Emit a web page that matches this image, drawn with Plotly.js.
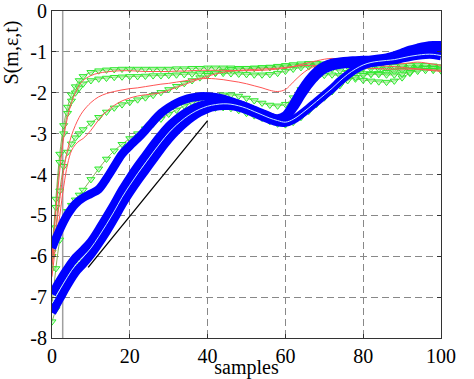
<!DOCTYPE html>
<html>
<head>
<meta charset="utf-8">
<script src="https://cdn.plot.ly/plotly-3.0.1.min.js"></script>
<style>html,body{margin:0;padding:0;background:#fff;}#chart{width:474px;height:379px;}</style>
</head>
<body>
<div id="chart"></div>
<script>
// sample positions (dense for marker series, even samples for thick curves)
const X_DENSE = [0,1,2,3,4,5,6,7,8,10,12,14,16,18,20,22,24,26,28,30,32,34,36,38,40,42,44,46,48,50,52,54,56,58,60,62,64,66,68,70,72,74,76,78,80,82,84,86,88,90,92,94,96,98,100];
const X_EVEN = [0,2,4,6,8,10,12,14,16,18,20,22,24,26,28,30,32,34,36,38,40,42,44,46,48,50,52,54,56,58,60,62,64,66,68,70,72,74,76,78,80,82,84,86,88,90,92,94,96,98,100];

// green triangle series (on X_DENSE)
const G1 = [-5.9,-4.6,-3.5,-2.8,-2.35,-2.05,-1.85,-1.7,-1.6,-1.5,-1.46,-1.44,-1.43,-1.42,-1.42,-1.42,-1.42,-1.42,-1.42,-1.42,-1.41,-1.41,-1.4,-1.4,-1.39,-1.39,-1.39,-1.39,-1.4,-1.4,-1.4,-1.39,-1.38,-1.37,-1.36,-1.34,-1.33,-1.32,-1.31,-1.31,-1.32,-1.34,-1.36,-1.38,-1.4,-1.41,-1.42,-1.42,-1.41,-1.4,-1.38,-1.37,-1.37,-1.38,-1.4];
const G2 = [-6.0,-4.8,-3.7,-3.0,-2.5,-2.2,-2.0,-1.88,-1.78,-1.7,-1.66,-1.64,-1.62,-1.61,-1.6,-1.6,-1.59,-1.58,-1.58,-1.57,-1.56,-1.55,-1.54,-1.53,-1.52,-1.52,-1.52,-1.53,-1.54,-1.55,-1.56,-1.56,-1.55,-1.52,-1.47,-1.42,-1.38,-1.36,-1.36,-1.38,-1.42,-1.46,-1.5,-1.52,-1.53,-1.53,-1.52,-1.5,-1.48,-1.45,-1.42,-1.4,-1.4,-1.42,-1.44];
const G3 = [-6.3,-5.3,-4.4,-3.8,-3.45,-3.25,-3.1,-3.0,-2.9,-2.74,-2.6,-2.47,-2.37,-2.29,-2.23,-2.17,-2.12,-2.06,-1.99,-1.92,-1.84,-1.77,-1.7,-1.63,-1.57,-1.51,-1.47,-1.43,-1.41,-1.4,-1.39,-1.38,-1.37,-1.35,-1.33,-1.31,-1.29,-1.28,-1.28,-1.29,-1.3,-1.31,-1.32,-1.33,-1.34,-1.35,-1.35,-1.35,-1.35,-1.34,-1.33,-1.32,-1.33,-1.34,-1.36];
const G4 = [-7.2,-6.3,-5.6,-5.15,-4.9,-4.75,-4.62,-4.5,-4.38,-4.12,-3.86,-3.62,-3.42,-3.26,-3.12,-3.0,-2.88,-2.76,-2.64,-2.52,-2.42,-2.32,-2.24,-2.18,-2.13,-2.08,-2.05,-2.05,-2.08,-2.13,-2.19,-2.25,-2.3,-2.32,-2.28,-2.12,-1.92,-1.75,-1.63,-1.57,-1.56,-1.58,-1.62,-1.66,-1.69,-1.71,-1.73,-1.74,-1.71,-1.63,-1.52,-1.43,-1.4,-1.4,-1.42];
const G5 = [-7.6,-7.3,-7.0,-6.75,-6.55,-6.4,-6.3,-6.2,-6.12,-5.9,-5.62,-5.32,-5.0,-4.7,-4.42,-4.15,-3.88,-3.6,-3.35,-3.1,-2.88,-2.7,-2.56,-2.46,-2.4,-2.37,-2.36,-2.38,-2.43,-2.5,-2.56,-2.62,-2.7,-2.76,-2.78,-2.72,-2.6,-2.45,-2.28,-2.12,-1.97,-1.82,-1.7,-1.62,-1.57,-1.55,-1.55,-1.56,-1.56,-1.54,-1.5,-1.47,-1.45,-1.45,-1.46];

// thin red series (on X_DENSE)
const R1 = [-6.0,-4.9,-3.9,-3.1,-2.6,-2.25,-2.0,-1.82,-1.7,-1.58,-1.52,-1.49,-1.47,-1.46,-1.46,-1.47,-1.48,-1.48,-1.48,-1.48,-1.47,-1.47,-1.46,-1.45,-1.45,-1.45,-1.45,-1.46,-1.46,-1.46,-1.46,-1.45,-1.44,-1.42,-1.4,-1.36,-1.31,-1.26,-1.22,-1.18,-1.16,-1.18,-1.21,-1.24,-1.26,-1.27,-1.28,-1.29,-1.29,-1.29,-1.27,-1.25,-1.27,-1.3,-1.33];
const R2 = [-6.2,-5.4,-4.6,-3.9,-3.4,-3.05,-2.8,-2.6,-2.45,-2.24,-2.1,-2.02,-1.97,-1.93,-1.9,-1.88,-1.85,-1.82,-1.79,-1.77,-1.74,-1.71,-1.68,-1.66,-1.65,-1.66,-1.68,-1.71,-1.74,-1.78,-1.83,-1.88,-1.94,-1.97,-1.92,-1.74,-1.56,-1.42,-1.34,-1.3,-1.29,-1.29,-1.3,-1.31,-1.32,-1.33,-1.34,-1.35,-1.36,-1.38,-1.4,-1.42,-1.44,-1.46,-1.48];
const R3 = [-6.5,-5.7,-5.0,-4.3,-3.75,-3.42,-3.27,-3.18,-3.12,-2.92,-2.66,-2.46,-2.31,-2.2,-2.13,-2.08,-2.05,-2.03,-2.0,-1.94,-1.87,-1.8,-1.73,-1.66,-1.6,-1.54,-1.5,-1.47,-1.45,-1.44,-1.43,-1.42,-1.41,-1.4,-1.38,-1.36,-1.34,-1.33,-1.33,-1.34,-1.35,-1.36,-1.37,-1.38,-1.39,-1.4,-1.41,-1.42,-1.42,-1.42,-1.42,-1.42,-1.43,-1.44,-1.45];

// thick blue series (on X_EVEN)
const B1 = [-5.8,-5.35,-4.98,-4.72,-4.57,-4.47,-4.36,-4.1,-3.8,-3.5,-3.3,-3.12,-2.92,-2.7,-2.5,-2.36,-2.25,-2.17,-2.12,-2.09,-2.09,-2.11,-2.15,-2.21,-2.28,-2.35,-2.44,-2.52,-2.59,-2.63,-2.55,-2.28,-1.95,-1.68,-1.47,-1.34,-1.27,-1.24,-1.22,-1.21,-1.2,-1.19,-1.17,-1.14,-1.09,-1.02,-0.95,-0.9,-0.86,-0.84,-0.84];
const B2 = [-6.93,-6.6,-6.3,-6.04,-5.85,-5.64,-5.35,-5.04,-4.72,-4.38,-4.08,-3.8,-3.54,-3.28,-3.04,-2.82,-2.65,-2.51,-2.4,-2.32,-2.27,-2.24,-2.22,-2.24,-2.28,-2.34,-2.42,-2.5,-2.58,-2.65,-2.6,-2.38,-2.08,-1.8,-1.58,-1.43,-1.35,-1.31,-1.29,-1.28,-1.27,-1.26,-1.24,-1.21,-1.17,-1.12,-1.06,-1.01,-0.98,-0.96,-0.96];
const B3 = [-7.38,-7.04,-6.7,-6.4,-6.19,-5.96,-5.69,-5.4,-5.08,-4.74,-4.44,-4.16,-3.9,-3.64,-3.38,-3.14,-2.93,-2.75,-2.6,-2.48,-2.39,-2.34,-2.32,-2.32,-2.36,-2.42,-2.5,-2.58,-2.66,-2.72,-2.73,-2.66,-2.53,-2.38,-2.22,-2.06,-1.9,-1.72,-1.56,-1.43,-1.33,-1.27,-1.24,-1.22,-1.2,-1.16,-1.12,-1.09,-1.07,-1.07,-1.1];
// thin light line inside the lower blue band (on X_EVEN)
const L1 = [-7.15,-6.82,-6.5,-6.22,-6.02,-5.8,-5.52,-5.22,-4.9,-4.56,-4.26,-3.98,-3.72,-3.46,-3.21,-2.98,-2.79,-2.63,-2.5,-2.4,-2.33,-2.29,-2.27,-2.28,-2.32,-2.38,-2.46,-2.54,-2.62,-2.68,-2.72,-2.65,-2.52,-2.37,-2.21,-2.05,-1.89,-1.71,-1.55,-1.42,-1.32,-1.26,-1.23,-1.21,-1.19,-1.15,-1.11,-1.08,-1.06,-1.06,-1.09];

// black slope segment and grey marker line
const SLOPE_X = [9.3, 40];
const SLOPE_Y = [-6.27, -2.68];
const VLINE_X = [2.75, 2.75];
const VLINE_Y = [-8, 0];

const Y_TICKS = [-8,-7,-6,-5,-4,-3,-2,-1,0];
const Y_LABELS = ['-8','-7','-6','-5','-4','-3','-2','-1','0'];
const X_TICKS = [0,20,40,60,80,100];
const X_LABELS = ['0','20','40','60','80','100'];

const traces = [];
traces.push({x: VLINE_X, y: VLINE_Y, mode: 'lines', line: {color: '#a0a0a0', width: 1.5}, hoverinfo: 'skip'});
[G1, G2, G3, G4, G5].forEach(g => traces.push({
  x: X_DENSE, y: g, mode: 'lines+markers',
  line: {color: '#6a9a2a', width: 0.8, shape: 'spline'},
  marker: {symbol: 'triangle-down', size: 7, color: 'rgba(170,255,170,0.55)', line: {width: 1, color: '#2ee82e'}}
}));
[R1, R2, R3].forEach(r => traces.push({
  x: X_DENSE, y: r, mode: 'lines', line: {color: '#ff5555', width: 1, shape: 'spline'}
}));
[B1, B2, B3].forEach(b => traces.push({
  x: X_EVEN, y: b, mode: 'lines', line: {color: '#0000ff', width: 8.5, shape: 'spline'}
}));
traces.push({x: X_EVEN, y: L1, mode: 'lines', line: {color: '#c8e8ff', width: 1, shape: 'spline'}});
traces.push({x: SLOPE_X, y: SLOPE_Y, mode: 'lines', line: {color: '#000000', width: 1.3}});

const axisFont = {family: '"Liberation Serif", "Times New Roman", Times, serif', size: 20, color: '#000'};
const layout = {
  width: 474, height: 379,
  margin: {l: 52, r: 33, t: 10.5, b: 41, pad: 0},
  paper_bgcolor: '#fff', plot_bgcolor: '#fff',
  showlegend: false,
  xaxis: {
    range: [0, 100], tickvals: X_TICKS, ticktext: X_LABELS,
    ticks: 'inside', ticklen: 4, tickcolor: '#333',
    showline: true, linecolor: '#333', linewidth: 1, mirror: 'ticks',
    showgrid: true, gridcolor: '#888', gridwidth: 1, griddash: '7px,4px',
    zeroline: false, tickfont: axisFont,
    title: {text: 'samples', font: axisFont, standoff: 0}
  },
  yaxis: {
    range: [-8, 0], tickvals: Y_TICKS, ticktext: Y_LABELS,
    ticks: 'inside', ticklen: 4, tickcolor: '#333',
    showline: true, linecolor: '#333', linewidth: 1, mirror: 'ticks',
    showgrid: true, gridcolor: '#888', gridwidth: 1, griddash: '7px,4px',
    zeroline: false, tickfont: axisFont
  },
  annotations: [{
    text: 'S(m,ε,t)', xref: 'paper', yref: 'paper', x: -0.103, y: 0.873,
    xanchor: 'center', yanchor: 'middle', textangle: -90, showarrow: false,
    font: axisFont
  }]
};
Plotly.newPlot('chart', traces, layout, {displayModeBar: false, staticPlot: true});
</script>
</body>
</html>
